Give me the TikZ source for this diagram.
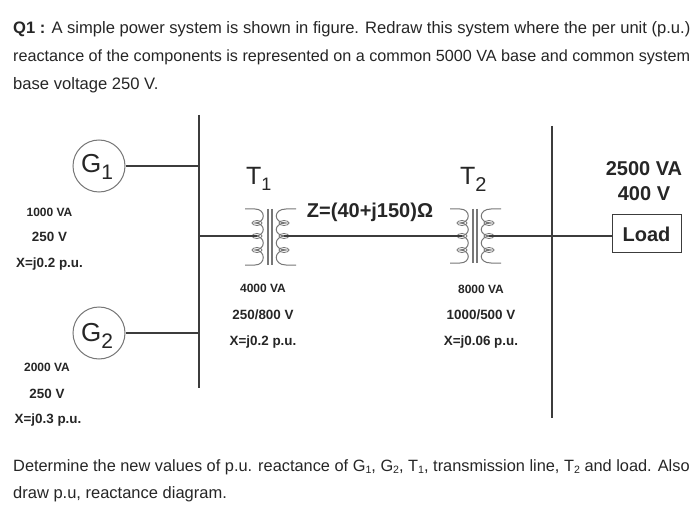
\documentclass[tikz,border=0pt]{standalone}
\usepackage{fontspec}
\setmainfont{Liberation Sans}
\definecolor{ink}{HTML}{262626}
\definecolor{wire}{HTML}{3C3C3C}
\definecolor{coilc}{HTML}{777777}
\newcommand{\subs}[1]{\raisebox{-0.25ex}{\scalebox{0.65}{#1}}}
\newcommand{\fsz}[1]{\fontsize{#1}{#1}\selectfont}
\tikzset{
  para/.style={anchor=base west,inner sep=0pt,font=\fsz{16.35},text=ink},
  spec/.style={inner sep=0pt,font=\bfseries\fsz{12},text=ink},
  specw/.style={inner sep=0pt,font=\bfseries\fsz{13.4},text=ink},
  specbig/.style={inner sep=0pt,font=\bfseries\fsz{20},text=ink},
  symb/.style={inner sep=0pt,anchor=base west,font=\fsz{26},text=ink},
  gen/.style={circle,draw=coilc,line width=1pt,minimum size=52pt,inner sep=0pt,fill=white},
  busbar/.style={draw=wire,line width=1.5pt},
  wireline/.style={draw=wire,line width=1.5pt},
  coil/.style={draw=coilc,line width=1pt},
  core/.style={draw=coilc,line width=2pt}
}
\newcommand{\windings}[3]{%
  \draw[core] (#1-2.2,#2-27) -- (#1-2.2,#2+#3) (#1+2.2,#2-27) -- (#1+2.2,#2+#3);
  \draw[coil] (#1-25,#2-27) -- (#1-15,#2-27)
     .. controls (#1-4,#2-27) and (#1-4,#2-13) .. (#1-15,#2-13)
     .. controls (#1-4,#2-13) and (#1-4,#2) .. (#1-15,#2)
     .. controls (#1-4,#2) and (#1-4,#2+14) .. (#1-15,#2+14)
     .. controls (#1-4,#2+14) and (#1-4,#2+#3) .. (#1-15,#2+#3) -- (#1-25,#2+#3);
  \draw[coil] (#1+26,#2-27) -- (#1+16,#2-27)
     .. controls (#1+3,#2-27) and (#1+3,#2-13) .. (#1+16,#2-13)
     .. controls (#1+3,#2-13) and (#1+3,#2) .. (#1+16,#2)
     .. controls (#1+3,#2) and (#1+3,#2+14) .. (#1+16,#2+14)
     .. controls (#1+3,#2+14) and (#1+3,#2+#3) .. (#1+16,#2+#3) -- (#1+26,#2+#3);
  \foreach \yy in {-13,0,14}{
    \draw[coil,line width=.8pt] (#1-13,#2+\yy) ellipse (5pt and 2.5pt);
    \draw[coil,line width=.8pt] (#1+14,#2+\yy) ellipse (5pt and 2.5pt);
  }%
}
\begin{document}
\begin{tikzpicture}[x=1pt,y=-1pt]
\useasboundingbox (0,0) rectangle (700,526);
\fill[white] (0,0) rectangle (700,526);
% question text
\node[para,font=\fsz{16.57}] (l1) at (13,34) {\textbf{Q1 :} A simple power system is shown in figure. Redraw this system where the per unit (p.u.)};
\node[para,font=\fsz{16.18}] (l2) at (13,62) {reactance of the components is represented on a common 5000 VA base and common system};
\node[para,font=\fsz{16.6}] (l3) at (13,90) {base voltage 250 V.};
\node[para] (l4) at (13,471) {Determine the new values of p.u. reactance of G\subs{1}, G\subs{2}, T\subs{1}, transmission line, T\subs{2} and load. Also};
\node[para,font=\fsz{16.5}] (l5) at (13,498) {draw p.u, reactance diagram.};
% buses
\coordinate (b1t) at (199,115);
\coordinate (b1b) at (199,388);
\coordinate (b2t) at (552,126);
\coordinate (b2b) at (552,418);
\draw[busbar] (b1t) -- (b1b);
\draw[busbar] (b2t) -- (b2b);
\coordinate (b1g1) at (199,166);
\coordinate (b1g2) at (199,333);
\coordinate (b1t1) at (199,236);
% generators
\node[gen] (g1) at (99,166) {};
\node[gen] (g2) at (99,333) {};
\node[symb] (g1t) at (81,173) {G\raisebox{-7pt}{\fsz{21}1}};
\node[symb] (g2t) at (81,341) {G\raisebox{-7pt}{\fsz{21}2}};
\draw[wireline] (g1) -- (b1g1);
\draw[wireline] (g2) -- (b1g2);
% transformers
\windings{270}{236}{29}
\windings{475}{236}{27}
\coordinate (t1l) at (257,236);
\coordinate (t1r) at (284,236);
\coordinate (t2l) at (462,236);
\coordinate (t2r) at (489,236);
\draw[wireline] (b1t1) -- (t1l);
\draw[wireline] (t1r) -- (t2l);
% load
\node[draw=wire,line width=1pt,minimum width=69pt,minimum height=38pt,inner sep=0pt,font=\bfseries\fsz{20},text=ink] (load) at (646.5,234) {Load};
\draw[wireline] (t2r) -- (load.west |- t2r);
% labels
\node[symb,font=\fsz{25}] (t1t) at (246,185) {T\raisebox{-6pt}{\fsz{18}1}};
\node[symb,font=\fsz{25}] (t2t) at (460,185) {T\raisebox{-7pt}{\fsz{20}2}};
\node[specbig] (zl) at (370,212) {Z=(40+j150)Ω};
\node[specbig] (s1) at (644,169) {2500 VA};
\node[specbig] (s2) at (644,194) {400 V};
\node[spec] (a1) at (49.5,212) {1000 VA};
\node[specw] (a2) at (49.5,237) {250 V};
\node[specw] (a3) at (49.5,264) {X=j0.2 p.u.};
\node[spec] (b1) at (47,367) {2000 VA};
\node[specw] (b2) at (47,394) {250 V};
\node[specw] (b3) at (48,420) {X=j0.3 p.u.};
\node[spec] (c1) at (263,288) {4000 VA};
\node[specw] (c2) at (263,315) {250/800 V};
\node[specw] (c3) at (263,342) {X=j0.2 p.u.};
\node[spec] (d1) at (481,289) {8000 VA};
\node[specw] (d2) at (481,315) {1000/500 V};
\node[specw] (d3) at (481,342) {X=j0.06 p.u.};
\end{tikzpicture}
\end{document}
